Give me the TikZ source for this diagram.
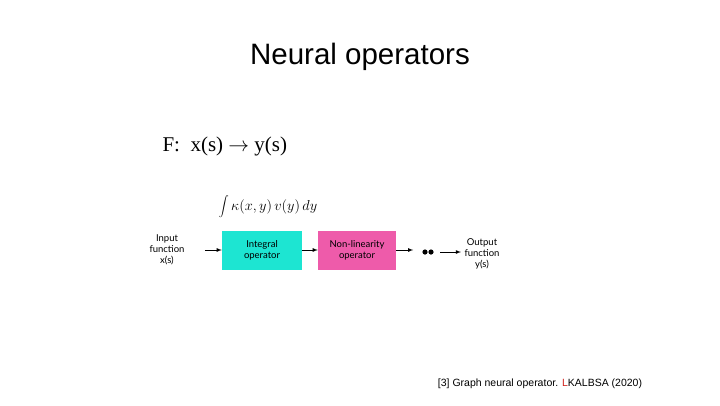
\documentclass[tikz,border=0pt]{standalone}
\usepackage{fontspec}
\setmainfont{Liberation Sans}
\newfontfamily\boxfont{Lato}
\newfontfamily\serifrm{Liberation Serif}
\usetikzlibrary{positioning}
\definecolor{integralc}{HTML}{1DE5D2}
\definecolor{nonlinc}{HTML}{EE5BAA}
\definecolor{refred}{HTML}{D0211B}

\begin{document}
\begin{tikzpicture}[x=1pt,y=-1pt,
    block/.style={minimum width=80pt,minimum height=39pt,inner sep=0pt,align=center,font=\boxfont\fontsize{9.5}{11}\selectfont},
    side/.style={align=center,font=\boxfont\fontsize{9.5}{11}\selectfont},
    flow/.style={-latex,thick}]
\useasboundingbox (0,0) rectangle (720,405);

\node[font=\fontsize{29.5}{32}\selectfont] (title) at (360,57) {Neural operators};
\node[font=\serifrm\fontsize{21}{23}\selectfont,anchor=west] (map) at (159,146) {F:\ \ x(s) $\rightarrow$ y(s)};

\node[block,fill=integralc] (integral) at (262,250) {Integral\\operator};
\node[block,fill=nonlinc,minimum width=78pt] (nonlin) at (357,250) {Non-linearity\\operator};
\node[side] (input) at (167,250) {Input\\function\\x(s)};
\node[font=\fontsize{14}{16}\selectfont] (kernel) at (268,207) {$\displaystyle\int \kappa(x,y)\,v(y)\,dy$};
\coordinate (dots) at (428,252);
\fill (dots) ++(-3,0) circle (2.6) (dots) ++(3,0) circle (2.6);
\node[side] (output) at (482,254) {Output\\function\\y(s)};

\draw[flow] (integral.west) ++(-17,0) coordinate (inout) -- (integral.west);
\draw[flow] (integral) -- (nonlin);
\draw[flow] (nonlin.east) -- ++(17,0) coordinate (dotsin);
\draw[flow] (dots) ++(12,0) coordinate (dotsout) -- (dotsout -| output.west);

\node[font=\fontsize{10.5}{12}\selectfont] (ref) at (540,384) {[3] Graph neural operator. \textcolor{refred}{L}KALBSA (2020)};
\end{tikzpicture}
\end{document}
